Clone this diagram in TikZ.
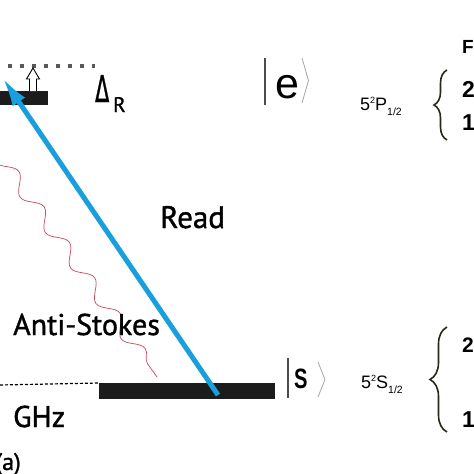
\documentclass[tikz,border=0pt]{standalone}
\usepackage{fontspec}
\setmainfont{Liberation Sans}
\newfontfamily\hum[FakeBold=1.2]{PT Sans}
\newfontfamily\greek[FakeBold=1.2]{DejaVu Sans}
\newfontfamily\arial{Liberation Sans}
\usetikzlibrary{arrows.meta,decorations.pathmorphing,decorations.pathreplacing}
\definecolor{readblue}{RGB}{25,160,220}
\definecolor{wavered}{RGB}{205,70,95}
\definecolor{barblack}{RGB}{28,28,28}
\definecolor{bracecol}{RGB}{40,40,25}
\tikzset{
  levelbar/.style={fill=barblack,draw=none},
  lbl/.style={inner sep=0pt,anchor=base west,text=black},
  ketline/.style={draw=gray!60!black,line width=1.3pt},
  ketangle/.style={draw=gray!70,line width=0.8pt},
  hfbrace/.style={draw=bracecol,line width=1.6pt,decorate},
  readarrow/.style={draw=readblue,line width=5pt,-{Latex[length=30pt,width=15pt]}},
  photon/.style={draw=wavered,line width=0.7pt,decorate,decoration={snake,segment length=43.5pt,amplitude=7pt}},
}
\begin{document}
\begin{tikzpicture}[x=1pt,y=-1pt]
\useasboundingbox (0,0) rectangle (474,474);
\clip (0,0) rectangle (474,474);
\fill[white] (0,0) rectangle (474,474);
% levels
\node[levelbar,minimum width=54pt,minimum height=14pt,inner sep=0pt,anchor=north west] (ebar) at (-6,91) {};
\node[levelbar,minimum width=176pt,minimum height=16pt,inner sep=0pt,anchor=north west] (sbar) at (99,383) {};
% detuned virtual level
\coordinate (vl0) at (8,66);
\coordinate (vl1) at (95,66);
\draw[gray!70!black,line width=3.2pt,dash pattern=on 3.5pt off 8.5pt] (vl0) -- (vl1);
\coordinate (gl0) at (0,385);
\draw[black,line width=1.2pt,dash pattern=on 3pt off 2pt] (gl0) -- (sbar.north west);
% hollow detuning arrow
\draw[black,line width=0.9pt,fill=white] (29.5,91) -- (29.5,79) -- (26.5,79) -- (33,68) -- (39.5,79) -- (36.5,79) -- (36.5,91);
% anti-Stokes photon
\coordinate (ph0) at (-20,129);
\coordinate (ph1) at (157,377);
\draw[photon] (ph0) -- (ph1);
% read beam
\coordinate (rd0) at (218,395);
\coordinate (rd1) at (2,77);
\draw[readarrow] (rd0) -- (rd1);
% labels
\node[lbl,font=\hum\fontsize{31}{31}\selectfont] (read) at (160,228) {Read};
\node[lbl,font=\hum\fontsize{30}{30}\selectfont] (as) at (13,335) {Anti-Stokes};
\node[lbl,font=\hum\fontsize{30}{30}\selectfont] (ghz) at (13,427) {GHz};
\node[lbl,font=\hum\fontsize{24}{24}\selectfont,anchor=base east] (pa) at (21,470) {(a)};
\node[lbl,font=\greek\fontsize{37}{37}\selectfont,xscale=0.56] (delta) at (95,102) {Δ};
\node[lbl,font=\hum\fontsize{21}{21}\selectfont] (deltaR) at (113,112) {R};
% ket e
\draw[ketline] (265,58) -- (265,105);
\node[lbl,font=\arial\fontsize{43}{43}\selectfont] (ket e) at (275,98) {e};
\draw[ketangle] (302,58) -- (308.5,80.5) -- (302,103);
% ket S
\draw[ketline] (288,358) -- (288,398);
\node[lbl,font=\arial\bfseries\fontsize{28}{28}\selectfont,xscale=0.72] (ket s) at (294,388) {S};
\draw[ketangle] (318,362) -- (325,379.5) -- (318,397);
% term symbols
\node[lbl,font=\arial\fontsize{18}{18}\selectfont] (termP) at (360,110) {5\raisebox{7pt}{\fontsize{9}{9}\selectfont 2}P\raisebox{-5pt}{\fontsize{10.5}{10.5}\selectfont 1/2}};
\node[lbl,font=\arial\fontsize{18}{18}\selectfont] (termS) at (361,388) {5\raisebox{7pt}{\fontsize{9}{9}\selectfont 2}S\raisebox{-5pt}{\fontsize{10.5}{10.5}\selectfont 1/2}};
% braces
\draw[hfbrace,decoration={brace,amplitude=13pt}] (447,140) -- (447,70);
\draw[hfbrace,decoration={brace,amplitude=17pt}] (447,432) -- (447,327);
% F labels
\node[lbl,font=\arial\bfseries\fontsize{19}{19}\selectfont] (Fh) at (462,53) {F};
\node[lbl,font=\arial\bfseries\fontsize{23}{23}\selectfont] (F2e) at (462,97) {2};
\node[lbl,font=\arial\bfseries\fontsize{23}{23}\selectfont] (F1e) at (462,130) {1};
\node[lbl,font=\arial\bfseries\fontsize{21}{21}\selectfont] (F2g) at (462,352) {2};
\node[lbl,font=\arial\bfseries\fontsize{23}{23}\selectfont] (F1g) at (462,427) {1};
\end{tikzpicture}
\end{document}
